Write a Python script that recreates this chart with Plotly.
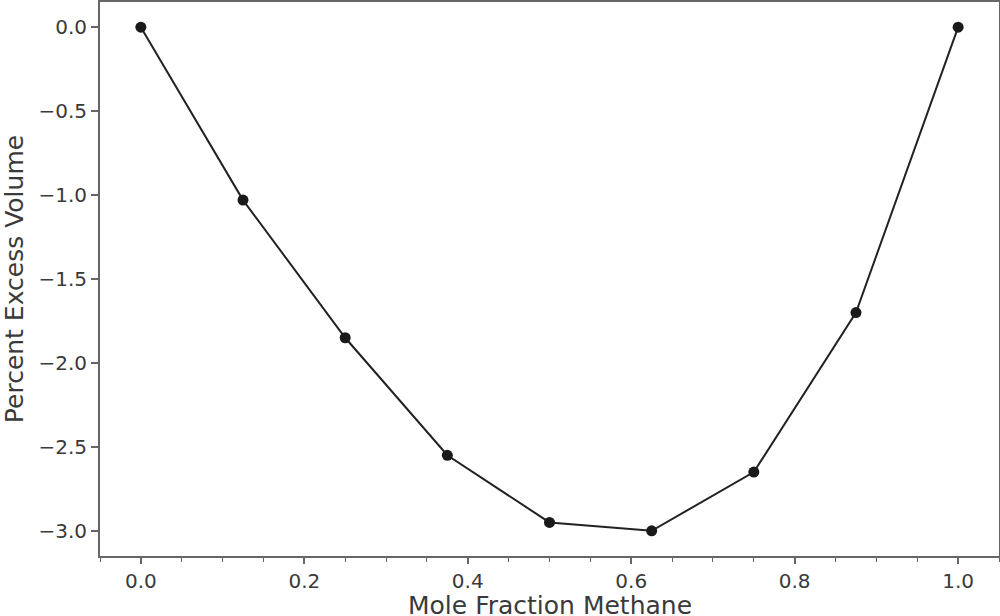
import plotly.graph_objects as go

mole_fraction = [0.0, 0.125, 0.25, 0.375, 0.5, 0.625, 0.75, 0.875, 1.0]
excess_volume = [0.0, -1.03, -1.85, -2.55, -2.95, -3.0, -2.65, -1.70, 0.0]

x_ticks = [0.0, 0.2, 0.4, 0.6, 0.8, 1.0]
y_ticks = [0.0, -0.5, -1.0, -1.5, -2.0, -2.5, -3.0]

axis_color = '#666666'
text_color = '#3a3a3a'

fig = go.Figure()
fig.add_trace(go.Scatter(
    x=mole_fraction,
    y=excess_volume,
    mode='lines+markers',
    line=dict(color='#222222', width=2),
    marker=dict(color='#1a1a1a', size=11),
))

# x title as annotation so it can sit partly below the page edge, like the original
fig.add_annotation(
    text='Mole Fraction Methane',
    xref='paper', yref='paper', x=0.5, y=0,
    xanchor='center', yanchor='top', yshift=-33,
    showarrow=False, font=dict(size=25, color=text_color),
)

fig.update_layout(
    width=1000,
    height=616,
    margin=dict(l=100, r=1, t=2, b=60),
    plot_bgcolor='white',
    paper_bgcolor='white',
    showlegend=False,
    font=dict(family='DejaVu Sans', size=20, color=text_color),
    xaxis=dict(
        range=[-0.05, 1.05],
        tickvals=x_ticks,
        ticktext=[f'{v:.1f}' for v in x_ticks],
        showgrid=False,
        zeroline=False,
        showline=True,
        linecolor=axis_color,
        linewidth=2,
        mirror=True,
        ticks='outside',
        ticklen=6,
        tickwidth=1.5,
        tickcolor=axis_color,
        automargin=False,
        minor=dict(dtick=0.05, tick0=0, ticks='outside', ticklen=4,
                   tickwidth=1.2, tickcolor=axis_color, showgrid=False),
    ),
    yaxis=dict(
        range=[-3.15, 0.15],
        tickvals=y_ticks,
        ticktext=[f'{v:.1f}'.replace('-', '\u2212') for v in y_ticks],
        showgrid=False,
        zeroline=False,
        showline=True,
        linecolor=axis_color,
        linewidth=2,
        mirror=True,
        ticks='outside',
        ticklen=7,
        tickwidth=1.5,
        tickcolor=axis_color,
        automargin=False,
        title=dict(text='Percent Excess Volume', font=dict(size=25)),
    ),
)

fig.write_html('out.html', config={'displayModeBar': False},
               post_script="document.body.style.margin='0';")
